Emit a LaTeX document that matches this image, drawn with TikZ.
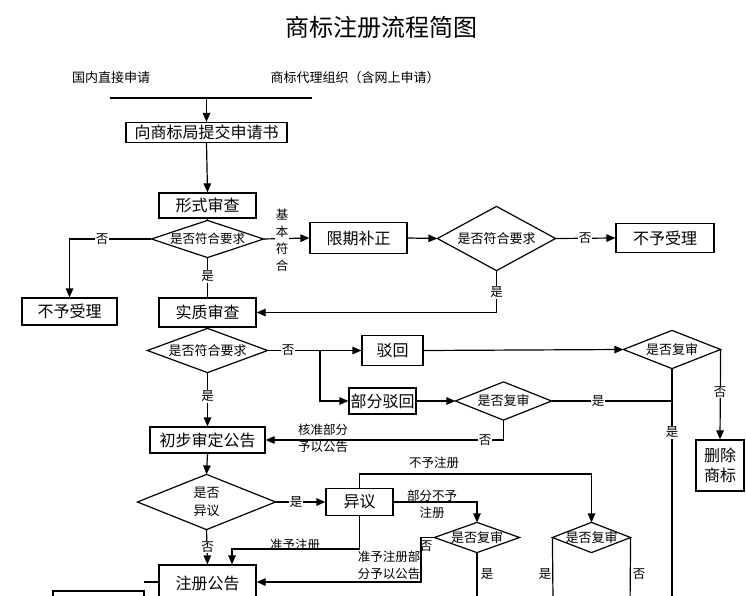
\documentclass[tikz,border=0pt]{standalone}
\usepackage{fontspec}
\newfontfamily\cjk{Noto Sans CJK SC}
\usetikzlibrary{arrows.meta}
\newcommand\dmdpath[1]{\draw (#1.west)--(#1.north)--(#1.east)--(#1.south)--cycle;}
\begin{document}
\begin{tikzpicture}[x=1pt,y=-1pt, line width=1.2pt, font=\cjk,
 box/.style={draw, inner sep=0pt, font=\cjk\fontsize{16}{20}\selectfont, align=center},
 dia/.style={inner sep=0pt, font=\cjk\fontsize{13}{18}\selectfont, align=center},
 lab/.style={fill=white, inner sep=1pt, font=\cjk\fontsize{12.5}{17}\selectfont, align=center},
 txt/.style={inner sep=0pt, font=\cjk\fontsize{12.5}{17}\selectfont, align=center},
 arr/.style={-{Triangle[length=9pt,width=7.5pt]}}]
\useasboundingbox (0,0) rectangle (746,596);
\clip (0,0) rectangle (746,596);

% title and sources
\node[inner sep=0pt, font=\cjk\fontsize{24}{28}\selectfont] (title) at (381,27) {商标注册流程简图};
\node[txt, font=\cjk\fontsize{13}{16}\selectfont] (src1) at (111,78) {国内直接申请};
\node[txt, font=\cjk\fontsize{13}{16}\selectfont] (src2) at (355,78) {商标代理组织（含网上申请）};
\coordinate (L1) at (110,98);
\coordinate (L2) at (312,98);

% boxes
\node[box, minimum width=161pt, minimum height=20pt] (sub) at (206.5,132.5) {向商标局提交申请书};
\node[box, minimum width=97pt, minimum height=25pt] (xs) at (207.5,205.5) {形式审查};
\node[dia, minimum width=111pt, minimum height=36pt, font=\cjk\fontsize{12.5}{16}\selectfont] (d1) at (207.5,239) {是否符合要求};
\node[box, minimum width=95pt, minimum height=27pt] (bj1) at (69.5,311.5) {不予受理};
\node[box, minimum width=97pt, minimum height=31pt] (xq) at (358.5,238) {限期补正};
\node[dia, minimum width=117pt, minimum height=63pt] (d2) at (496.5,238.5) {是否符合要求};
\node[box, minimum width=98pt, minimum height=29pt] (bj2) at (665,238) {不予受理};
\node[box, minimum width=97pt, minimum height=29pt] (sz) at (207.5,312.5) {实质审查};
\node[dia, minimum width=119pt, minimum height=43pt] (d3) at (207.5,350.5) {是否符合要求};
\node[box, minimum width=61pt, minimum height=30pt] (bh) at (392.5,350.5) {驳回};
\node[box, minimum width=67pt, minimum height=26pt] (bfbh) at (382.5,401) {部分驳回};
\node[dia, minimum width=95pt, minimum height=37pt] (d4) at (503.5,401) {是否复审};
\node[dia, minimum width=96pt, minimum height=37pt] (d5) at (672,349.5) {是否复审};
\node[box, minimum width=48pt, minimum height=51pt, font=\cjk\fontsize{16}{20}\selectfont] (del) at (720,465.5) {删除\\商标};
\node[box, minimum width=115pt, minimum height=26pt] (cb) at (207.5,440) {初步审定公告};
\node[dia, minimum width=137pt, minimum height=54pt] (d6) at (206.5,502) {是否\\异议};
\node[box, minimum width=67pt, minimum height=27pt] (yy) at (359.5,502) {异议};
\node[dia, minimum width=84pt, minimum height=29pt] (d7) at (477,537.5) {是否复审};
\node[dia, minimum width=77pt, minimum height=29pt] (d8) at (591.5,537.5) {是否复审};
\node[box, minimum width=97pt, minimum height=40pt] (zc) at (207.5,585) {\raisebox{5pt}{注册公告}};
\node[box, minimum width=91pt, minimum height=40pt] (lb) at (98.5,611) {};

\dmdpath{d1}
\dmdpath{d2}
\dmdpath{d3}
\dmdpath{d4}
\dmdpath{d5}
\dmdpath{d6}
\dmdpath{d7}
\dmdpath{d8}

% coordinates for free ends and bends
\coordinate (br) at (320,350.5);
\coordinate (b5) at (672,600);
\coordinate (c21) at (232,549);
\coordinate (c23) at (400,474);
\coordinate (c24) at (421,582);
\coordinate (c25) at (144,582);
\coordinate (b7) at (477,600);
\coordinate (b8l) at (553,600);
\coordinate (b8r) at (630,607);

% connectors
\draw (L1) -- (L2);
\draw[arr] (sub.north |- L1) -- (sub.north);
\draw[arr] (sub.south) -- (xs.north);
\draw (xs.south) -- (d1.north);
\draw[arr] (d1.west) -| (bj1.north);
\node[lab] at (102,239) {否};
\draw (d1.south) -- (sz.north);
\node[lab] at (207.5,276) {是};
\draw[arr] (d1.east) -- (xq.west);
\node[lab] at (282,240) {基\\本\\符\\合};
\draw[arr] (xq.east) -- (d2.west);
\draw[arr] (d2.east) -- (bj2.west);
\node[lab] at (585,238.5) {否};
\draw[arr] (d2.south) |- (sz.east);
\node[lab] at (496.5,292) {是};

\draw (d3.east) -- (br);
\draw[arr] (br) -- (bh.west);
\draw[arr] (br) |- (bfbh.west);
\node[lab] at (288,350.5) {否};
\draw[arr] (d3.south) -- (cb.north);
\node[lab] at (207.5,396) {是};
\draw[arr] (bh.east) -- (d5.west);
\draw[arr] (bfbh.east) -- (d4.west);
\draw (d4.east) -- (d4.east -| d5.south);
\node[lab] at (598,401) {是};
\draw (d5.south) -- (b5);
\node[lab] at (672,432) {是};
\draw[arr] (d5.east) -- (del.north);
\node[lab] at (720,392) {否};
\draw[arr] (d4.south) |- (cb.east);
\node[lab] at (485,440) {否};
\node[txt] at (323,438.5) {核准部分\\予以公告};

\draw[arr] (cb.south) -- (d6.north);
\draw[arr] (d6.east) -- (yy.west);
\node[lab] at (296,502) {是};
\draw[arr] (d6.south) -- (zc.north);
\node[lab] at (207.5,547) {否};
\draw[arr] (yy.south) |- (c21) -- (c21 |- zc.north);
\node[txt] at (295,545) {准予注册};
\draw[arr] (yy.east) -| (d7.north);
\node[txt] at (432,504) {部分不予\\注册};
\draw[arr] (yy.north) |- (c23) -| (d8.north);
\node[txt] at (434,463) {不予注册};
\draw[arr] (d7.west) -| (c24) -- (c24 -| zc.east);
\node[txt] at (426,546) {否};
\node[txt] at (389,565.5) {准予注册部\\分予以公告};
\draw (d7.south) -- (b7);
\node[txt] at (487,574) {是};
\draw (d8.west) -- (b8l);
\node[txt] at (545,574) {是};
\draw[arr] (d8.east) -- (b8r);
\node[txt] at (639,574) {否};
\draw (zc.west |- c25) -- (c25);
\end{tikzpicture}
\end{document}
